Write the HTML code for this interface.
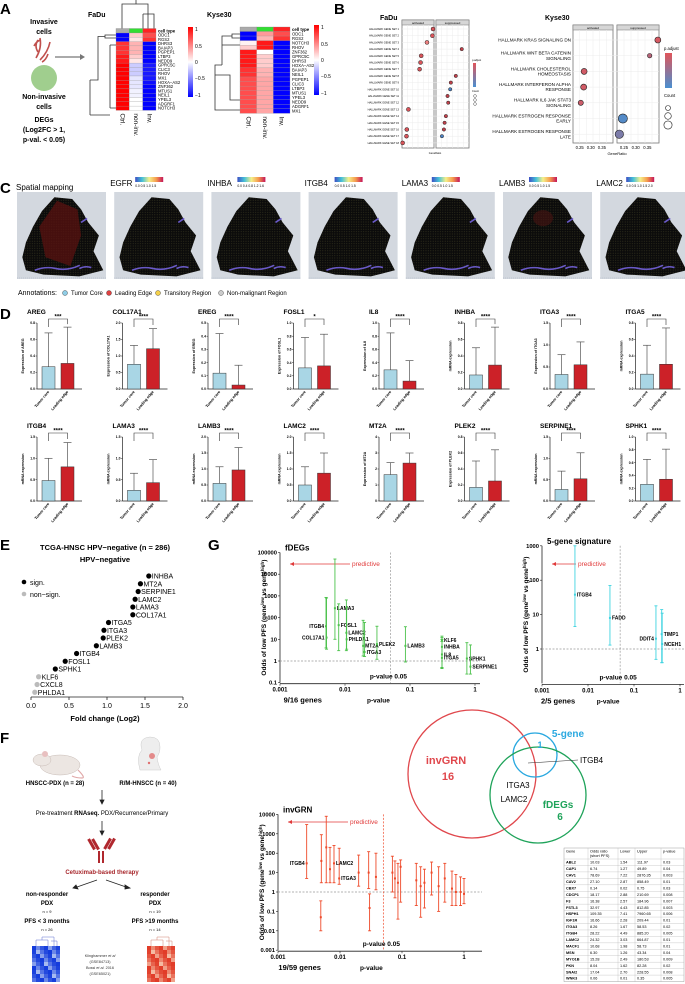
<!DOCTYPE html>
<html><head><meta charset="utf-8">
<style>
html,body{margin:0;padding:0;background:#fff;}
svg{display:block;}
text{font-family:"Liberation Sans",Arial,sans-serif;}
</style></head>
<body>
<svg id="fig" width="685" height="984" viewBox="0 0 685 984">
<defs>
<linearGradient id="gBWR" x1="0" y1="1" x2="0" y2="0"><stop offset="0" stop-color="#0000ff"/><stop offset="0.5" stop-color="#ffffff"/><stop offset="1" stop-color="#ff0000"/></linearGradient>
<linearGradient id="gPadj" x1="0" y1="1" x2="0" y2="0"><stop offset="0" stop-color="#4a8fd0"/><stop offset="1" stop-color="#e0555a"/></linearGradient>
<linearGradient id="gSpec" x1="0" y1="0" x2="1" y2="0"><stop offset="0" stop-color="#3d4fc4"/><stop offset="0.25" stop-color="#46c1d8"/><stop offset="0.5" stop-color="#f5f08a"/><stop offset="0.75" stop-color="#f59b4e"/><stop offset="1" stop-color="#c4145a"/></linearGradient>
<pattern id="pDots" width="2.4" height="2.4" patternUnits="userSpaceOnUse"><rect width="2.4" height="2.4" fill="#0b0b0b"/><circle cx="1.2" cy="1.2" r="0.5" fill="#3b3a22"/></pattern>
</defs>
<!-- panel letters -->
<g font-weight="bold" font-size="15" fill="#000">
<text x="0" y="14">A</text>
<text x="334" y="14">B</text>
<text x="0" y="193">C</text>
<text x="0" y="319">D</text>
<text x="0" y="550">E</text>
<text x="208" y="550">G</text>
<text x="0" y="743">F</text>
</g>
<!-- Panel A left -->
<g font-weight="bold" font-size="7" text-anchor="middle">
<text x="44" y="24">Invasive</text><text x="44" y="34">cells</text>
<path d="M36 58 q6 -10 4 -20 M40 60 q8 -8 10 -18 M38 52 q-4 -6 0 -12 M42 62 q4 -2 6 -8 M34 46 q2 -4 6 -6" stroke="#c0504d" stroke-width="1.6" fill="none"/>
<text x="44" y="99">Non-invasive</text><text x="44" y="109">cells</text>
<text x="44" y="122">DEGs</text><text x="44" y="132">(Log2FC &gt; 1,</text><text x="44" y="142">p-val. &lt; 0.05)</text>
</g>
<circle cx="44" cy="78" r="13" fill="#8fc57a" opacity="0.85"/>
<line x1="55" y1="57" x2="80" y2="57" stroke="#777" stroke-width="1.2"/>
<path d="M80 54 L85 57 L80 60 Z" fill="#777"/>
<text x="88" y="17" font-size="7" font-weight="bold">FaDu</text>
<text x="207" y="17" font-size="7" font-weight="bold">Kyse30</text>
<g stroke="#333" stroke-width="0.8" fill="none">
<path d="M122 29 V4 H148 V29 M136 4 V0 M143 14 H154 V29 M143 14 V29"/>
<path d="M116 35 H105 V38 H116 M105 36.5 H98 V80 H90 M90 80 V115 M90 115 H110 M110 45 V108 M110 45 H116 M110 108 H116 M98 80 H90"/>
</g>
<g stroke="#333" stroke-width="0.8" fill="none">
<path d="M240 34 H232 V38 H240 M232 36 H222 V65 M222 65 H215 V110 H240 M222 45 H240 M215 75 H230 V100 H240"/>
</g>
<g id="heatA"></g>
<!-- colorbars -->
<rect x="188" y="27" width="5" height="70" fill="url(#gBWR)"/>
<g font-size="5"><text x="195" y="31">1</text><text x="195" y="48">0.5</text><text x="195" y="64">0</text><text x="195" y="80">−0.5</text><text x="195" y="97">−1</text></g>
<rect x="314" y="25" width="5" height="70" fill="url(#gBWR)"/>
<g font-size="5"><text x="321" y="29">1</text><text x="321" y="46">0.5</text><text x="321" y="62">0</text><text x="321" y="78">−0.5</text><text x="321" y="95">−1</text></g>
<!-- Panel B -->
<text x="380" y="20" font-size="7" font-weight="bold">FaDu</text>
<text x="545" y="20" font-size="7" font-weight="bold">Kyse30</text>
<g id="panelB"></g>
<!-- Panel C -->
<text x="16" y="190" font-size="8">Spatial mapping</text>
<g id="panelC"></g>
<g font-size="6">
<text x="18" y="295" font-size="7">Annotations:</text>
<circle cx="65" cy="293" r="2.5" fill="#8fcde6" stroke="#333" stroke-width="0.4"/><text x="71" y="295">Tumor Core</text>
<circle cx="109" cy="293" r="2.5" fill="#e04040" stroke="#333" stroke-width="0.4"/><text x="115" y="295">Leading Edge</text>
<circle cx="158" cy="293" r="2.5" fill="#f4d04a" stroke="#333" stroke-width="0.4"/><text x="164" y="295">Transitory Region</text>
<circle cx="221" cy="293" r="2.5" fill="#cccccc" stroke="#333" stroke-width="0.4"/><text x="227" y="295">Non-malignant Region</text>
</g>
<g id="panelD"></g>
<!-- Panel E -->
<text x="105" y="550" font-size="7.5" font-weight="bold" text-anchor="middle">TCGA-HNSC HPV−negative (n = 286)</text>
<text x="105" y="562" font-size="7.5" font-weight="bold" text-anchor="middle">HPV−negative</text>
<g font-size="7">
<circle cx="24" cy="582" r="2.3" fill="#000"/><text x="30" y="585">sign.</text>
<circle cx="24" cy="594" r="2.3" fill="#bbb"/><text x="30" y="597">non−sign.</text>
</g>
<g id="panelE"></g>
<!-- Panel G -->
<g id="panelG"></g>
<!-- Venn -->
<g>
<circle cx="472" cy="774" r="64" fill="none" stroke="#e0474c" stroke-width="1.3"/>
<circle cx="535" cy="755" r="22" fill="none" stroke="#29a8e0" stroke-width="1.3"/>
<circle cx="538" cy="795" r="48" fill="none" stroke="#1fa35a" stroke-width="1.3"/>
<text x="446" y="764" font-size="11" font-weight="bold" fill="#e0474c" text-anchor="middle">invGRN</text>
<text x="448" y="780" font-size="11" font-weight="bold" fill="#e0474c" text-anchor="middle">16</text>
<text x="568" y="737" font-size="10" font-weight="bold" fill="#29a8e0" text-anchor="middle">5-gene</text>
<text x="540" y="748" font-size="9" font-weight="bold" fill="#29a8e0" text-anchor="middle">1</text>
<line x1="528" y1="763" x2="578" y2="760" stroke="#333" stroke-width="0.6"/>
<text x="580" y="763" font-size="8">ITGB4</text>
<text x="518" y="788" font-size="8" text-anchor="middle">ITGA3</text>
<text x="514" y="802" font-size="8" text-anchor="middle">LAMC2</text>
<text x="558" y="808" font-size="10" font-weight="bold" fill="#1fa35a" text-anchor="middle">fDEGs</text>
<text x="560" y="820" font-size="10" font-weight="bold" fill="#1fa35a" text-anchor="middle">6</text>
</g>
<g id="table"></g>
<!-- Panel F -->
<g>
<ellipse cx="60" cy="765" rx="20" ry="10" fill="#ece6e2" stroke="#c8bcb6" stroke-width="0.5"/>
<ellipse cx="42" cy="760" rx="9" ry="6" fill="#ece6e2" stroke="#c8bcb6" stroke-width="0.5"/>
<ellipse cx="45" cy="754" rx="3" ry="3" fill="#e8c0c0"/>
<path d="M78 770 q8 8 4 8 q-6 0 -10 -2" stroke="#e0a8a8" stroke-width="1.2" fill="none"/>
</g>
<g>
<path d="M140 770 q-4 -14 2 -20 q-4 -12 8 -13 q10 0 10 10 q0 6 -3 10 q1 8 4 13 Z" fill="#eeeeee" stroke="#cccccc" stroke-width="0.5"/>
<circle cx="152" cy="756" r="3" fill="#e07070" opacity="0.8"/><circle cx="149" cy="763" r="1.2" fill="#e07070"/>
</g>
<g font-size="6" text-anchor="middle">
<text x="55" y="785" font-weight="bold">HNSCC-PDX (n = 28)</text>
<text x="148" y="785" font-weight="bold">R/M-HNSCC (n = 40)</text>
<text x="102" y="815">Pre-treatment <tspan font-weight="bold">RNAseq.</tspan> PDX/Recurrence/Primary</text>
<text x="102" y="874" fill="#a8282d" font-weight="bold">Cetuximab-based therapy</text>
<text x="47" y="896" font-weight="bold">non-responder</text><text x="47" y="905" font-weight="bold">PDX</text>
<text x="47" y="913" font-size="4">n = 9</text><text x="47" y="923" font-weight="bold">PFS &lt; 3 months</text><text x="47" y="931" font-size="4">n = 26</text>
<text x="155" y="896" font-weight="bold">responder</text><text x="155" y="905" font-weight="bold">PDX</text>
<text x="155" y="913" font-size="4">n = 19</text><text x="155" y="923" font-weight="bold">PFS &gt;19 months</text><text x="155" y="931" font-size="4">n = 14</text>
<g font-size="3.8" fill="#333"><text x="100" y="957">Klinghammer <tspan font-style="italic">et al</tspan></text><text x="100" y="963">(GSE84713)</text><text x="100" y="969">Bossi <tspan font-style="italic">et al.</tspan> 2016</text><text x="100" y="975">(GSE65021)</text></g>
</g>
<g stroke="#222" stroke-width="0.8">
<line x1="102" y1="790" x2="102" y2="801"/><path d="M100 800 L102 804 L104 800 Z" fill="#222"/>
<line x1="102" y1="821" x2="102" y2="832"/><path d="M100 831 L102 835 L104 831 Z" fill="#222"/>
<line x1="97" y1="880" x2="77" y2="887"/><path d="M76 885 L73 888 L78 889 Z" fill="#222"/>
<line x1="106" y1="880" x2="126" y2="887"/><path d="M125 885 L130 888 L125 889 Z" fill="#222"/>
</g>
<g fill="#b0282e">
<rect x="98" y="851" width="2" height="12"/><rect x="102" y="851" width="2" height="12"/>
<rect x="90" y="838" width="3" height="12" transform="rotate(-30 92 844)"/><rect x="94" y="838" width="3" height="12" transform="rotate(-30 96 844)"/>
<rect x="106" y="838" width="3" height="12" transform="rotate(30 108 844)"/><rect x="110" y="838" width="3" height="12" transform="rotate(30 112 844)"/>
</g>
<g id="fHeat"></g>
<script>
// ---------- data ----------
const hmFaduGenes=["ODC1","RGS2","DHRS3","BAIAP3","PGPEP1","LTBP3","NEDD9","GPRC5C","CLIC3","RHOV","MX1","HOXA−AS2","ZNF362","MTUS1","NEIL1","YPEL3","ADGRF1","NOTCH3"];
const hmFaduCtrl=[-1,-1,0.8,0.8,0.8,0.9,0.9,1,1,1,1,1,1,1,1,1,1,1];
const hmFaduNon=[0.2,0.1,0.3,0.3,0.3,0.2,0.1,-0.2,-0.2,-0.2,-0.1,-0.1,-0.1,-0.05,-0.05,0,0,0];
const hmFaduInv=[0.7,0.8,-1,-1,-1,-1,-1,-0.9,-0.9,-0.9,-0.9,-0.95,-1,-1,-1,-1,-1,-1];
const hmKyseGenes=["ODC1","RGS2","NOTCH3","RHOV","ZNF362","GPRC5C","DHRS3","HOXA−AS2","BAIAP3","NEIL1","PGPEP1","CLIC3","LTBP3","MTUS1","YPEL3","NEDD9","ADGRF1","MX1"];
const hmKyseCtrl=[-1,-1,0.05,0.2,0.9,0.9,0.9,0.9,0.8,0.8,0.7,0.7,0.7,0.7,0.7,0.7,0.7,0.7];
const hmKyseNon=[0.4,0.3,0.9,0.9,0,0.2,0.2,0.2,0.3,0.3,0.35,0.35,0.35,0.35,0.35,0.35,0.35,0.35];
const hmKyseInv=[0.7,0.8,-1,-1,-1,-1,-1,-1,-1,-1,-1,-1,-1,-1,-1,-1,-1,-1];

const bFaduAct=[0.97,0.95,0.78,null,0.6,0.58,0.55,null,null,null,null,null,0.2,null,null,0.15,0.14,0.02];
const bFaduSup=[null,null,null,0.78,null,null,null,0.6,0.45,0.43,0.35,0.37,null,0.3,0.26,0.24,0.18,null];
const bKyseTerms=["HALLMARK KRAS SIGNALING DN","HALLMARK WNT BETA CATENIN|SIGNALING","HALLMARK CHOLESTEROL|HOMEOSTASIS","HALLMARK INTERFERON ALPHA|RESPONSE","HALLMARK IL6 JAK STAT3|SIGNALING","HALLMARK ESTROGEN RESPONSE|EARLY","HALLMARK ESTROGEN RESPONSE|LATE"];
const bKyseRatio=[0.395,0.36,0.27,0.268,0.255,0.245,0.23];
const bKysePanel=[1,1,0,0,0,1,1];
const bKyseCount=[20,10,20,20,15,40,35];
const bKysePadj=[0.02,0.08,0.03,0.03,0.04,0.28,0.2];

const cGenes=["EGFR","INHBA","ITGB4","LAMA3","LAMB3","LAMC2"];
const cScale=["0.0 0.5 1.0 1.5","0.0 0.4 0.8 1.2 1.6","0.0 0.5 1.0 1.5","0.0 0.5 1.0 1.5","0.0 0.5 1.0 1.5","0.0 0.5 1.0 1.5 2.0"];

const dGenes=["AREG","COL17A1","EREG","FOSL1","IL8","INHBA","ITGA3","ITGA5","ITGB4","LAMA3","LAMB3","LAMC2","MT2A","PLEK2","SERPINE1","SPHK1"];
const dTumor=[0.27,0.75,0.12,0.32,0.29,0.17,0.33,0.18,0.48,0.25,0.55,0.5,1.65,0.17,0.27,0.26];
const dTumorErr=[0.68,1.32,0.42,0.78,0.85,0.5,0.78,0.53,1.0,0.65,1.07,1.07,2.4,0.5,0.7,0.65];
const dLead=[0.31,1.22,0.03,0.35,0.12,0.29,0.55,0.3,0.8,0.43,0.97,0.87,2.37,0.25,0.52,0.34];
const dLeadErr=[0.75,1.83,0.18,0.83,0.43,0.75,1.07,0.74,1.37,0.97,1.67,1.5,3.0,0.64,1.13,0.81];
const dMax=[0.8,2.0,0.5,1.0,1.0,0.8,1.5,0.8,1.5,1.5,2.0,2.0,4,0.8,1.5,1.0];
const dStep=[0.2,0.5,0.1,0.2,0.2,0.2,0.5,0.2,0.5,0.5,0.5,0.5,1,0.2,0.5,0.2];
const dSig=["***","****","****","*","****","****","****","****","****","****","****","****","****","****","****","****"];
const dYlab=["Expression of AREG","Expression of COL17A1","Expression of EREG","Expression of FOSL1","Expression of IL8","mRNA expression","Expression of ITGA3","mRNA expression","mRNA expression","mRNA expression","mRNA expression","mRNA expression","Expression of MT2A","Expression of PLEK2","mRNA expression","mRNA expression"];

const eGenes=["INHBA","MT2A","SERPINE1","LAMC2","LAMA3","COL17A1","ITGA5","ITGA3","PLEK2","LAMB3","ITGB4","FOSL1","SPHK1","KLF6","CXCL8","PHLDA1"];
const eFold=[1.55,1.44,1.41,1.37,1.34,1.34,1.02,0.96,0.95,0.86,0.6,0.45,0.32,0.1,0.08,0.05];
const eSig=[1,1,1,1,1,1,1,1,1,1,1,1,1,0,0,0];
const eTicks=[0,0.5,1.0,1.5,2.0];

const fdGenes=["ITGB4","COL17A1","LAMA3","FOSL1","LAMC2","PHLDA1","MT2A","ITGA3","PLEK2","LAMB3","KLF6","INHBA","IL8","ITGA5","SPHK1","SERPINE1"];
const fdP=[0.0051,0.0052,0.007,0.008,0.0105,0.0106,0.019,0.02,0.031,0.085,0.31,0.31,0.31,0.31,0.75,0.85];
const fdLow=[4,3.5,10,3,3,3.5,1.7,1.6,1.2,0.9,0.45,0.5,0.5,0.45,0.25,0.25];
const fdEst=[40,12,270,45,20,10,5,2.6,6,5,9,4.5,2,1.4,1.3,0.55];
const fdUp=[850,800,50000,430,650,300,75,60,40,38,14,12,10,8,7,5.5];
const fdSide=["L","L","R","R","R","R","R","R","R","R","R","R","R","R","R","R"];

const sgGenes=["ITGB4","FADD","DDIT4","TIMP1","NCEH1"];
const sgP=[0.0052,0.03,0.3,0.4,0.41];
const sgLow=[4.5,1.3,0.5,0.4,0.4];
const sgEst=[38,8,2,2.7,1.4];
const sgUp=[1000,70,18,14,11];
const sgSide=["R","R","L","R","R"];

const igLabel=["ITGB4","","","","","LAMC2","ITGA3","","","","","","","","","","","","","","","","","",""];
const igP=[0.0029,0.0049,0.005,0.006,0.0069,0.008,0.0097,0.02,0.029,0.03,0.038,0.07,0.077,0.086,0.095,0.17,0.2,0.23,0.3,0.39,0.49,0.64,0.74,0.88,1.0];
const igLow=[5,0.01,3,3,3,3,2.5,2,1.5,0.01,1.3,1,0.5,0.04,0.3,0.2,0.05,0.15,0.7,0.1,0.3,0.2,0.2,0.2,0.25];
const igEst=[30,0.05,40,200,15,30,5,10,10,0.15,6,10,5,3,20,4,2,3,10,2,5,1.5,1,1,0.8];
const igUp=[3000,0.35,900,8000,200,250,180,80,120,0.8,100,70,40,30,45,30,20,15,35,20,30,12,8,6,5];

const tHead=["Gene","Odds ratio (short PFS)","Lower","Upper","p-value"];
const tGene=["ABL2","CAP1","CAV1","CAV2","CBX7","CDCP1","F3","FSTL3","HSPH1","IGF1R","ITGA3","ITGB4","LAMC2","MACF1","MSN","MYO1B","PKN","SNAI2","WNK3"];
const tOdds=["10.03","6.74","78.69","27.10","0.14","18.17","16.38","32.97","109.35","16.66","8.26","28.22","24.32","10.68","6.30","15.28","8.04","17.04","0.06"];
const tLow=["1.54","1.27","7.22","2.87","0.02","2.88","2.57","4.43","7.41","2.28","1.67","4.49","3.03","1.98","1.26","2.49","1.62","2.70","0.01"];
const tUp=["111.97","49.89","2876.35","858.49","0.75","210.69","184.96","812.85","7960.65","209.44","58.53","885.20","664.87","58.73","43.34","180.53","82.28","228.55","0.35"];
const tPv=["0.03","0.04","0.003","0.01","0.03","0.008","0.007","0.003","0.006","0.01","0.02","0.005","0.01","0.01","0.04","0.009","0.02","0.008","0.005"];

// ---------- helpers ----------
const NS='http://www.w3.org/2000/svg';
function mk(tag,at,par,txt){const e=document.createElementNS(NS,tag);for(const k in at)e.setAttribute(k,at[k]);if(txt!==undefined)e.textContent=txt;par.appendChild(e);return e;}
function bwr(v){v=Math.max(-1,Math.min(1,v));let r,g,b;if(v>=0){r=255;g=b=Math.round(255*(1-v));}else{b=255;r=g=Math.round(255*(1+v));}return `rgb(${r},${g},${b})`;}
function lerpCol(a,b,t){return `rgb(${Math.round(a[0]+(b[0]-a[0])*t)},${Math.round(a[1]+(b[1]-a[1])*t)},${Math.round(a[2]+(b[2]-a[2])*t)})`;}

// ---------- Panel A heatmaps ----------
const gA=document.getElementById('heatA');
function heat(x0,yTop,rowH,genes,c1,c2,c3,labX,name){
  const g=mk('g',{},gA);
  
  
  const cw=(labX-2-x0)/3;
  ['#aaaaaa','#33dd33','#ff2222'].forEach((c,j)=>{mk('rect',{x:x0+j*cw,y:yTop,width:cw,height:4.5,fill:c,stroke:'#888','stroke-width':0.3},g);});
  mk('text',{x:labX,y:yTop+4,'font-size':4.3,'font-weight':'bold'},g,'cell type');
  genes.forEach((gn,i)=>{
    const y=yTop+4.5+i*rowH;
    [c1,c2,c3].forEach((arr,j)=>{
      const r=mk('rect',{x:x0+j*cw,y:y,width:cw,height:rowH,fill:bwr(arr[i]),stroke:'#999','stroke-width':0.25},g);
      
      
    });
    mk('text',{x:labX,y:y+rowH-0.8,'font-size':4.2},g,gn);
  });
  const yb=yTop+4.5+genes.length*rowH+3;
  ['Ctrl.','non-inv.','Inv.'].forEach((t,j)=>{
    const tx=x0+j*cw+cw/2-2;
    mk('text',{x:tx,y:yb,'font-size':6.5,transform:`rotate(90 ${tx} ${yb})`},g,t);
  });
}
heat(116,28.5,4.3,hmFaduGenes,hmFaduCtrl,hmFaduNon,hmFaduInv,158,'fadu-heatmap');
heat(240,27,4.55,hmKyseGenes,hmKyseCtrl,hmKyseNon,hmKyseInv,292,'kyse30-heatmap');

// ---------- Panel B ----------
const gB=document.getElementById('panelB');
function facet(x,y,w,h,label,g){
  mk('rect',{x:x,y:y,width:w,height:h,fill:'#fff',stroke:'#777','stroke-width':0.8},g);
  mk('rect',{x:x,y:y,width:w,height:5,fill:'#d6d6d6',stroke:'#777','stroke-width':0.5},g);
  mk('text',{x:x+w/2,y:y+3.8,'font-size':3,'text-anchor':'middle'},g,label);
  for(let k=1;k<6;k++)mk('line',{x1:x+k*w/6,y1:y+5,x2:x+k*w/6,y2:y+h,stroke:'#ececec','stroke-width':0.5},g);
}
const gBf=mk('g',{},gB);


facet(402,20,32,128,'activated',gBf);facet(436,20,33,128,'suppressed',gBf);
for(let i=0;i<18;i++){
  const y=29+i*6.7;
  mk('text',{x:399,y:y+1,'font-size':2.6,'text-anchor':'end'},gBf,'HALLMARK GENE SET '+(i+1));
  mk('line',{x1:402,y1:y,x2:469,y2:y,stroke:'#ececec','stroke-width':0.5},gBf);
  if(bFaduAct[i]!==null){const c=mk('circle',{cx:402+bFaduAct[i]*32,cy:y,r:2,fill:i==2?'#ee8080':'#d9545a',stroke:'#222','stroke-width':0.5},gBf);}
  if(bFaduSup[i]!==null){const c=mk('circle',{cx:436+bFaduSup[i]*33,cy:y,r:1.7,fill:(i==9||i==16)?'#4a7fc0':'#c0404a',stroke:'#222','stroke-width':0.5},gBf);}
}
mk('rect',{x:473,y:63,width:3,height:24,fill:'url(#gPadj)'},gBf);
mk('text',{x:472,y:61,'font-size':2.6},gBf,'p.adjust');
mk('text',{x:472,y:92,'font-size':2.6},gBf,'Count');
[96,100,104].forEach(y=>mk('circle',{cx:475,cy:y,r:1.4,fill:'none',stroke:'#222','stroke-width':0.4},gBf));
mk('text',{x:435,y:154,'font-size':2.6,'text-anchor':'middle'},gBf,'GeneRatio');

const gBk=mk('g',{},gB);


const kxs=[{x:573,w:40},{x:617,w:42}];
facet(573,25,40,118,'activated',gBk);facet(617,25,42,118,'suppressed',gBk);
function kx(p,r){return kxs[p].x+ (r-0.22)/(0.40-0.22)*kxs[p].w;}
bKyseTerms.forEach((t,i)=>{
  const y=40+i*15.7;
  mk('line',{x1:573,y1:y,x2:659,y2:y,stroke:'#ececec','stroke-width':0.5},gBk);
  const parts=t.split('|');
  parts.forEach((p,j)=>mk('text',{x:571,y:y+(parts.length>1?(j-0.5)*5.2+1.5:1.5),'font-size':4.6,'text-anchor':'end'},gBk,p));
  const pad=bKysePadj[i]/0.3;
  const c=mk('circle',{cx:kx(bKysePanel[i],bKyseRatio[i]),cy:y,r:1.4+bKyseCount[i]*0.08,fill:lerpCol([224,85,90],[74,143,208],pad),stroke:'#222','stroke-width':0.6},gBk);
  
  
});
[0,1].forEach(p=>[0.25,0.30,0.35].forEach(v=>mk('text',{x:kx(p,v),y:149,'font-size':4.2,'text-anchor':'middle'},gBk,v.toFixed(2))));
mk('text',{x:617,y:155,'font-size':4,'text-anchor':'middle'},gBk,'GeneRatio');
mk('text',{x:664,y:50,'font-size':4.2},gBk,'p.adjust');
mk('rect',{x:665,y:53,width:7,height:35,fill:'url(#gPadj)'},gBk);
mk('text',{x:664,y:97,'font-size':4.2},gBk,'Count');
[108,116,125].forEach((y,j)=>mk('circle',{cx:668,cy:y,r:2.5+j*0.8,fill:'none',stroke:'#222','stroke-width':0.6},gBk));

// ---------- Panel C ----------
const gC=document.getElementById('panelC');
const shape=[[0.42,0.06],[0.62,0.08],[0.72,0.2],[0.8,0.35],[0.92,0.5],[0.86,0.68],[0.97,0.9],[0.7,0.97],[0.3,0.95],[0.1,0.9],[0.06,0.75],[0.1,0.58],[0.18,0.4],[0.28,0.22]];
for(let k=0;k<7;k++){
  const x0=17+k*97.2, y0=192, w=89, h=87;
  const g=mk('g',{},gC);
  
  
  mk('rect',{x:x0,y:y0,width:w,height:h,fill:'#d3d8df'},g);
  mk('polygon',{points:shape.map(p=>(x0+p[0]*w).toFixed(1)+','+(y0+p[1]*h).toFixed(1)).join(' '),fill:'url(#pDots)'},g);
  if(k==0)mk('path',{d:`M${x0+0.45*w} ${y0+0.1*h} L${x0+0.68*w} ${y0+0.2*h} L${x0+0.72*w} ${y0+0.5*h} L${x0+0.6*w} ${y0+0.85*h} L${x0+0.32*w} ${y0+0.75*h} L${x0+0.25*w} ${y0+0.4*h} Z`,fill:'#5a1210',opacity:0.75},g);
  if(k==5)mk('ellipse',{cx:x0+0.45*w,cy:y0+0.3*h,rx:10,ry:8,fill:'#4a1412',opacity:0.6},g);
  mk('path',{d:`M${x0+0.2*w} ${y0+0.9*h} q10 -4 20 -2 q12 3 25 -3 M${x0+0.72*w} ${y0+0.35*h} l6 -4 M${x0+0.7*w} ${y0+0.88*h} q6 -3 12 -1`,stroke:'#6a5ac8','stroke-width':1.6,fill:'none'},g);
  mk('line',{x1:x0,y1:y0+h-1,x2:x0+w,y2:y0+h-1,stroke:'#a8b0c0','stroke-width':0.6,'stroke-dasharray':'1 1'},g);
  if(k>0){
    mk('text',{x:x0-4+ (k==1?0:0),y:186,'font-size':8},g,cGenes[k-1]);
    const bx=x0+(cGenes[k-1].length*5+1);
    mk('rect',{x:bx,y:177,width:28,height:5,fill:'url(#gSpec)'},g);
    mk('text',{x:bx,y:187,'font-size':3.3},g,cScale[k-1]);
  }
}

// ---------- Panel D ----------
const gD=document.getElementById('panelD');
dGenes.forEach((gn,i)=>{
  const row=Math.floor(i/8), col=i%8;
  const ax=37+col*85.5, top=row?437:323, base=row?501:389, H=base-top;
  const ys=v=>base-v/dMax[i]*H;
  const g=mk('g',{},gD);
  
  
  mk('text',{x:ax-10,y:top-9,'font-size':6.5,'font-weight':'bold'},g,gn);
  mk('line',{x1:ax,y1:top,x2:ax,y2:base,stroke:'#222','stroke-width':0.7},g);
  mk('line',{x1:ax,y1:base,x2:ax+45,y2:base,stroke:'#222','stroke-width':0.7},g);
  for(let v=0;v<=dMax[i]+1e-9;v+=dStep[i]){
    const y=ys(v);
    mk('line',{x1:ax-1.5,y1:y,x2:ax,y2:y,stroke:'#222','stroke-width':0.5},g);
    mk('text',{x:ax-2,y:y+1.2,'font-size':3.4,'text-anchor':'end','font-weight':'bold'},g,dStep[i]>=1?v.toFixed(0):v.toFixed(1));
  }
  const yl=ax-13, ym=(top+base)/2;
  mk('text',{x:yl,y:ym,'font-size':3.6,'font-weight':'bold','text-anchor':'middle',transform:`rotate(-90 ${yl} ${ym})`},g,dYlab[i]);
  const bars=[[ax+5,dTumor[i],dTumorErr[i],'#a9d6e5'],[ax+24,dLead[i],dLeadErr[i],'#cc2128']];
  bars.forEach((b,j)=>{
    const cx=b[0]+6.5;
    mk('line',{x1:cx,y1:ys(b[1]),x2:cx,y2:ys(b[2]),stroke:'#555','stroke-width':0.7},g);
    mk('line',{x1:cx-4,y1:ys(b[2]),x2:cx+4,y2:ys(b[2]),stroke:'#555','stroke-width':0.7},g);
    const r=mk('rect',{x:b[0],y:ys(b[1]),width:13,height:base-ys(b[1]),fill:b[3],stroke:'#333','stroke-width':0.5},g);
    
    
    const lab=j?'Leading edge':'Tumor core';
    mk('text',{x:cx+1,y:base+3,'font-size':3.8,'font-weight':'bold','text-anchor':'end',transform:`rotate(-50 ${cx+1} ${base+3})`},g,lab);
  });
  const by=top-4, c1=ax+11.5, c2=ax+30.5;
  mk('path',{d:`M${c1} ${Math.min(ys(dTumorErr[i])-3,by+8)} V${by} H${c2} V${Math.min(ys(dLeadErr[i])-3,by+6)}`,stroke:'#333','stroke-width':0.6,fill:'none'},g);
  mk('text',{x:(c1+c2)/2,y:by-0.5,'font-size':6,'font-weight':'bold','text-anchor':'middle'},g,dSig[i]);
});

// ---------- Panel E ----------
const gE=document.getElementById('panelE');
const ex=v=>31+v*76;
mk('line',{x1:31,y1:697,x2:183,y2:697,stroke:'#222','stroke-width':0.8},gE);
eTicks.forEach(t=>{mk('line',{x1:ex(t),y1:697,x2:ex(t),y2:700,stroke:'#222','stroke-width':0.8},gE);mk('text',{x:ex(t),y:708,'font-size':7,'text-anchor':'middle'},gE,t.toFixed(1));});
mk('text',{x:105,y:721,'font-size':7.5,'font-weight':'bold','text-anchor':'middle'},gE,'Fold change (Log2)');
eGenes.forEach((gn,i)=>{
  const y=576+i*7.75, x=ex(eFold[i]);
  const c=mk('circle',{cx:x,cy:y,r:2.6,fill:eSig[i]?'#000':'#bbb'},gE);
  
  
  mk('text',{x:x+3,y:y+2.6,'font-size':7},gE,gn);
});

// ---------- Panel G ----------
const gG=document.getElementById('panelG');
function forest(o){
  const g=mk('g',{},gG);
  
  
  const xs=p=>o.x0+(Math.log10(p)+3)*o.dx;
  const ys=v=>o.y1-Math.log10(v)*o.dy;
  const yBot=ys(o.yMin), yTop=ys(o.yMax);
  mk('line',{x1:o.x0,y1:yTop,x2:o.x0,y2:yBot,stroke:'#222','stroke-width':0.8},g);
  mk('line',{x1:o.x0,y1:yBot+1,x2:o.xEnd,y2:yBot+1,stroke:'#222','stroke-width':0.8},g);
  o.yt.forEach(v=>{const y=ys(v);mk('line',{x1:o.x0-2,y1:y,x2:o.x0,y2:y,stroke:'#222','stroke-width':0.6},g);mk('text',{x:o.x0-3,y:y+2,'font-size':5.8,'font-weight':'bold','text-anchor':'end'},g,String(v));});
  [0.001,0.01,0.1,1].forEach(p=>{const x=xs(p);mk('line',{x1:x,y1:yBot+1,x2:x,y2:yBot+3,stroke:'#222','stroke-width':0.6},g);mk('text',{x:x,y:yBot+9,'font-size':6,'font-weight':'bold','text-anchor':'middle'},g,String(p));});
  mk('line',{x1:o.x0,y1:ys(1),x2:o.xEnd,y2:ys(1),stroke:'#999','stroke-width':0.7,'stroke-dasharray':'2 1.5'},g);
  mk('line',{x1:xs(0.05),y1:yTop,x2:xs(0.05),y2:yBot,stroke:o.vcol,'stroke-width':0.7,'stroke-dasharray':'2 1.5'},g);
  mk('text',{x:xs(0.05)-2,y:yBot-4,'font-size':6.5,'font-weight':'bold','text-anchor':'middle'},g,'p-value 0.05');
  mk('text',{x:o.x0+5,y:yTop-2,'font-size':8,'font-weight':'bold'},g,o.title);
  const ay=o.arrowY;
  mk('line',{x1:o.x0+10,y1:ay,x2:o.x0+10+o.arrowL,y2:ay,stroke:'#e03a3a','stroke-width':0.8},g);
  mk('path',{d:`M${o.x0+10} ${ay} l4 -2 v4 Z`,fill:'#e03a3a'},g);
  mk('text',{x:o.x0+12+o.arrowL,y:ay+2,'font-size':6.5,fill:'#e03a3a'},g,'predictive');
  const tx=o.x0-14, tyc=(yTop+yBot)/2;
  const t=mk('text',{x:tx,y:tyc,'font-size':6.5,'font-weight':'bold','text-anchor':'middle',transform:`rotate(-90 ${tx} ${tyc})`},g);
  mk('tspan',{},t,'Odds of low PFS (gene');mk('tspan',{'baseline-shift':'super','font-size':4.5},t,'low');mk('tspan',{},t,' vs gene');mk('tspan',{'baseline-shift':'super','font-size':4.5},t,'high');mk('tspan',{},t,')');
  mk('text',{x:o.x0+o.dx*0.35,y:yBot+20,'font-size':7.5,'font-weight':'bold','text-anchor':'middle'},g,o.count);
  mk('text',{x:xs(0.05)-12,y:yBot+20,'font-size':6.5,'font-weight':'bold','text-anchor':'middle'},g,'p-value');
  o.p.forEach((p,i)=>{
    const x=xs(p);
    const e=mk('line',{x1:x,y1:ys(o.low[i]),x2:x,y2:ys(o.up[i]),stroke:o.col,'stroke-width':0.9},g);
    
    
    [o.low[i],o.up[i]].forEach(v=>mk('line',{x1:x-1.5,y1:ys(v),x2:x+1.5,y2:ys(v),stroke:o.col,'stroke-width':0.9},g));
    const pt=mk('rect',{x:x-1,y:ys(o.est[i])-1,width:2,height:2,fill:o.col},g);
    
    
    if(o.lab[i]){const L=o.side[i]==='L';mk('text',{x:L?x-2:x+2,y:ys(o.est[i])+1.8,'font-size':5,'font-weight':'bold','text-anchor':L?'end':'start'},g,o.lab[i]);}
  });
}
forest({name:'fdegs-forest-plot',title:'fDEGs',x0:280,dx:65,xEnd:480,y1:661,dy:21.7,yMin:0.1,yMax:100000,yt:[100000,10000,1000,100,10,1,0.1],p:fdP,low:fdLow,est:fdEst,up:fdUp,lab:fdGenes,side:fdSide,col:'#4cc24c',vcol:'#999',arrowY:564,arrowL:60,count:'9/16 genes'});
forest({name:'five-gene-forest-plot',title:'5-gene signature',x0:542,dx:46,xEnd:684,y1:649,dy:34.4,yMin:0.1,yMax:1000,yt:[1000,100,10,1],p:sgP,low:sgLow,est:sgEst,up:sgUp,lab:sgGenes,side:sgSide,col:'#3fd3e0',vcol:'#999',arrowY:564,arrowL:24,count:'2/5 genes'});
forest({name:'invgrn-forest-plot',title:'invGRN',x0:278,dx:62,xEnd:482,y1:892,dy:19.4,yMin:0.001,yMax:10000,yt:[10000,1000,100,10,1,0.1,0.01,0.001],p:igP,low:igLow,est:igEst,up:igUp,lab:igLabel,side:igLabel.map((l,i)=>i==0?'L':'R'),col:'#ee4a2a',vcol:'#ee4a2a',arrowY:822,arrowL:60,count:'19/59 genes'});

// ---------- Table ----------
const gT=document.getElementById('table');


const tcx=[566,590,620,637,663], tx0=564, tx1=684, ty0=848, rh=6.45;
mk('rect',{x:tx0,y:ty0,width:tx1-tx0,height:11+tGene.length*rh,fill:'#fff',stroke:'#888','stroke-width':0.4},gT);
mk('text',{x:tcx[0],y:ty0+4.5,'font-size':3.8},gT,tHead[0]);
mk('text',{x:tcx[1],y:ty0+4.5,'font-size':3.8},gT,'Odds ratio');
mk('text',{x:tcx[1],y:ty0+9,'font-size':3.8},gT,'(short PFS)');
[2,3,4].forEach(j=>mk('text',{x:tcx[j],y:ty0+4.5,'font-size':3.8},gT,tHead[j]));
[tcx[1]-2,tcx[2]-2,tcx[3]-2,tcx[4]-2].forEach(x=>mk('line',{x1:x,y1:ty0,x2:x,y2:ty0+11+tGene.length*rh,stroke:'#aaa','stroke-width':0.3},gT));
tGene.forEach((gn,i)=>{
  const y=ty0+11+i*rh;
  mk('line',{x1:tx0,y1:y,x2:tx1,y2:y,stroke:'#aaa','stroke-width':0.3},gT);
  [gn,tOdds[i],tLow[i],tUp[i],tPv[i]].forEach((v,j)=>mk('text',{x:tcx[j],y:y+4.6,'font-size':3.8,'font-weight':j==0?'bold':'normal'},gT,v));
});

// ---------- F heatmaps (illustrative) ----------
const gF=document.getElementById('fHeat');
function fheat(x0,pal,name){
  const g=mk('g',{},gF);
  
  
  mk('path',{d:`M${x0+8} 946 V940 H${x0+20} V946 M${x0+14} 940 V937 H${x0+26} V946 M${x0+23} 941 H${x0+29} V946`,stroke:pal==0?'#6070d0':'#d08070','stroke-width':0.5,fill:'none'},g);
  for(let r=0;r<9;r++)for(let c=0;c<7;c++){
    const h=((r*7+c)*37+r*13)%10/10;
    const col=pal==0?lerpCol([20,60,220],[200,215,245],h*h):lerpCol([225,60,40],[250,215,190],h*h);
    mk('rect',{x:x0+4+c*4,y:946+r*4,width:4,height:4,fill:col},g);
  }
}
fheat(28,0,'non-responder-heatmap');
fheat(143,1,'responder-heatmap');
</script>
</svg>
</body></html>
